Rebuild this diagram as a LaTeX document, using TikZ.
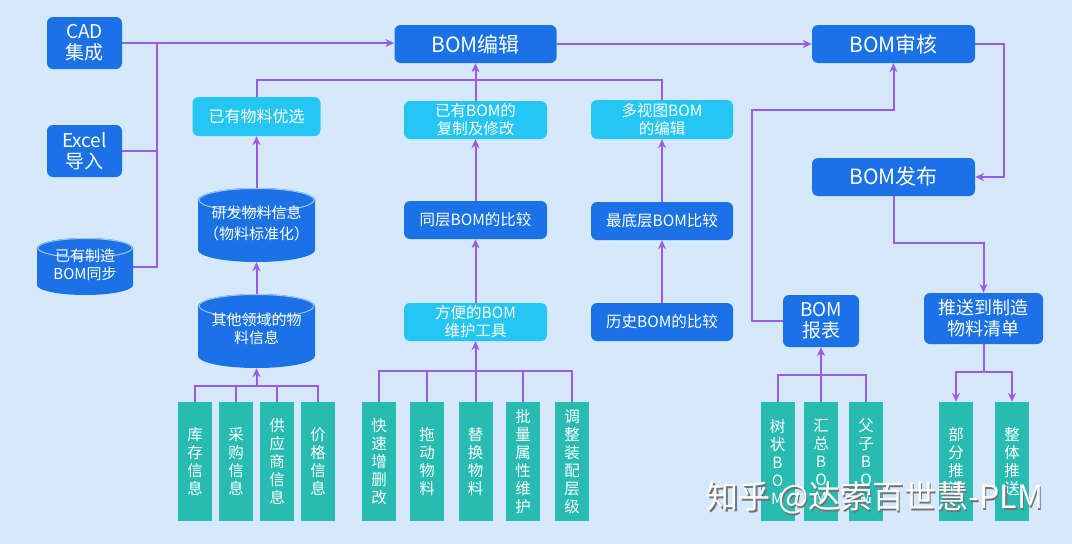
\documentclass[tikz,border=0pt]{standalone}
\usepackage{fontspec}
\setmainfont{Noto Sans CJK SC}
\usetikzlibrary{arrows.meta,calc}
\definecolor{bgc}{HTML}{D6E8FB}
\definecolor{dblue}{HTML}{1B72E6}
\definecolor{lcyan}{HTML}{26C6F4}
\definecolor{tealc}{HTML}{28BBB2}
\definecolor{purp}{HTML}{9B5BE8}
\definecolor{cylrim}{HTML}{9CC6F4}
\tikzset{
 box/.style={fill=dblue, rounded corners=6pt, text=white, align=center, inner sep=0pt},
 lbox/.style={box, fill=lcyan},
 barbox/.style={fill=tealc, text=white, align=center, inner sep=0pt, minimum width=34pt, minimum height=119pt, font=\fontsize{15.5}{18}\selectfont},
 cyltext/.style={text=white, align=center, inner sep=0pt},
 ln/.style={draw=purp, line width=2pt},
 arr/.style={ln, -{Stealth[length=9pt,width=8pt]}},
 bigf/.style={font=\fontsize{21}{24}\selectfont},
 midf/.style={font=\fontsize{19}{21}\selectfont},
 smf/.style={font=\fontsize{15.5}{18}\selectfont},
}
% name, cx, cy, w, h, ry, font, text
\newcommand\mycyl[8]{%
 \fill[dblue] ({#2-#4/2},{-#3+#5/2-#6}) -- ({#2-#4/2},{-#3-#5/2+#6})
   arc[start angle=180,end angle=360,x radius=#4/2,y radius=#6]
   -- ({#2+#4/2},{-#3+#5/2-#6})
   arc[start angle=0,end angle=180,x radius=#4/2,y radius=#6] -- cycle;
 \draw[cylrim, line width=1pt] (#2,{-#3+#5/2-#6}) ellipse[x radius=#4/2-1, y radius=#6-0.5];
 \node[cyltext, minimum width=#4 pt, minimum height=#5 pt, font=#7] (#1) at (#2,-#3) {\raisebox{-5pt}{\begin{tabular}{@{}c@{}}#8\end{tabular}}};
}
\begin{document}
\begin{tikzpicture}[x=1pt,y=1pt]
\fill[bgc] (0,0) rectangle (1072,-544);
\useasboundingbox (0,0) rectangle (1072,-544);

% top row
\node[box,minimum width=75pt,minimum height=52pt,midf] (cad) at (84.5,-43) {CAD\\集成};
\node[box,minimum width=75pt,minimum height=52pt,midf] (excel) at (84.5,-151) {Excel\\导入};
\mycyl{sync}{85}{266.5}{96}{57}{10}{\fontsize{15}{18}\selectfont}{已有制造\\BOM同步}

\node[box,minimum width=162pt,minimum height=38pt,bigf] (bomedit) at (475.5,-44) {BOM编辑};
\node[box,minimum width=163pt,minimum height=38pt,bigf] (audit) at (893.5,-44) {BOM审核};
\node[box,minimum width=163pt,minimum height=38pt,bigf] (publish) at (893.5,-177) {BOM发布};

\node[lbox,minimum width=128pt,minimum height=39pt,font=\fontsize{16}{18}\selectfont] (pref) at (256.5,-116.5) {已有物料优选};
\node[lbox,minimum width=143pt,minimum height=38pt,smf] (copy) at (475.5,-120) {已有BOM的\\复制及修改};
\node[lbox,minimum width=142pt,minimum height=39pt,smf] (multi) at (662,-119.5) {多视图BOM\\的编辑};
\node[box,minimum width=143pt,minimum height=38pt,smf] (same) at (475.5,-220) {同层BOM的比较};
\node[box,minimum width=142pt,minimum height=38pt,smf] (lowest) at (662,-221) {最底层BOM比较};
\node[lbox,minimum width=143pt,minimum height=38pt,smf] (tool) at (475.5,-322) {方便的BOM\\维护工具};
\node[box,minimum width=142pt,minimum height=38pt,smf] (hist) at (662,-322) {历史BOM的比较};

\mycyl{rd}{256.5}{225}{117}{74}{12}{\fontsize{15}{21}\selectfont}{研发物料信息\\（物料标准化）}
\mycyl{other}{256.5}{331}{117}{74}{12}{\fontsize{15}{18}\selectfont}{其他领域的物\\料信息}

\node[box,minimum width=76pt,minimum height=52pt,midf] (report) at (821,-321) {BOM\\报表};
\node[box,minimum width=119pt,minimum height=51pt,font=\fontsize{18}{21}\selectfont] (push) at (983.5,-318.5) {推送到制造\\物料清单};

% bars
\node[barbox] (b1) at (195,-461.5) {库\\存\\信\\息};
\node[barbox] (b2) at (236,-461.5) {采\\购\\信\\息};
\node[barbox] (b3) at (277,-461.5) {供\\应\\商\\信\\息};
\node[barbox] (b4) at (318,-461.5) {价\\格\\信\\息};
\node[barbox] (m1) at (379,-461.5) {快\\速\\增\\删\\改};
\node[barbox] (m2) at (427,-461.5) {拖\\动\\物\\料};
\node[barbox] (m3) at (475.5,-461.5) {替\\换\\物\\料};
\node[barbox] (m4) at (523,-461.5) {批\\量\\属\\性\\维\\护};
\node[barbox] (m5) at (572,-461.5) {调\\整\\装\\配\\层\\级};
\node[barbox] (r1) at (777.5,-461.5) {树\\状\\B\\O\\M};
\node[barbox] (r2) at (821,-461.5) {汇\\总\\B\\O\\M};
\node[barbox] (r3) at (866,-461.5) {父\\子\\B\\O\\M};
\node[barbox] (p1) at (956,-461.5) {部\\分\\推\\送};
\node[barbox] (p2) at (1012,-461.5) {整\\体\\推\\送};

% connectors: inputs
\coordinate (jn) at (157,-43);
\draw[arr] (cad.east) -- (cad.east -| bomedit.west);
\draw[ln] (excel.east) -- (excel.east -| jn);
\draw[ln] (sync.east) -- (sync.east -| jn) -- (jn);

\draw[arr] (bomedit.east) -- (bomedit.east -| audit.west);
\draw[arr] (audit.east) -- ++(29,0) |- (publish.east);
\draw[arr] (publish.south) -- ++(0,-47) -| (push.north);
\draw[arr] (report.west) -- ++(-31,0) |- ($(audit.south)+(0,-47)$) -- (audit.south);

\draw[ln] (pref.north) -- ++(0,17) -| (multi.north);
\draw[arr] (copy.north) -- (bomedit.south);
\draw[arr] (same.north) -- (copy.south);
\draw[arr] (tool.north) -- (same.south);
\draw[arr] (lowest.north) -- (multi.south);
\draw[arr] (hist.north) -- (lowest.south);
\draw[arr] (rd.north) -- (pref.south);
\draw[arr] (other.north) -- (rd.south);

% bar buses
\draw[ln] (b1.north) -- ++(0,16) -| (b4.north);
\draw[ln] (b2.north) -- ++(0,16);
\draw[ln] (b3.north) -- ++(0,16);
\draw[arr] ($(b2.north)!0.5!(b3.north)+(0,16)$) -- (other.south);

\draw[ln] (m1.north) -- ++(0,31) -| (m5.north);
\draw[ln] (m2.north) -- ++(0,31);
\draw[ln] (m4.north) -- ++(0,31);
\draw[arr] (m3.north) -- (tool.south);

\draw[ln] (r1.north) -- ++(0,27) -| (r3.north);
\draw[arr] (r2.north) -- (report.south);

\draw[ln] (push.south) -- ++(0,-28) coordinate (pj);
\draw[arr] (pj) -| (p1.north);
\draw[arr] (pj) -| (p2.north);

% watermark
\node[text=black!55, font=\fontsize{32}{36}\selectfont, inner sep=0pt] (wms) at (876.5,-499.5) {知乎 @达索百世慧-PLM};
\node[text=white, font=\fontsize{32}{36}\selectfont, inner sep=0pt] (wm) at (875,-498) {知乎 @达索百世慧-PLM};
\end{tikzpicture}
\end{document}
